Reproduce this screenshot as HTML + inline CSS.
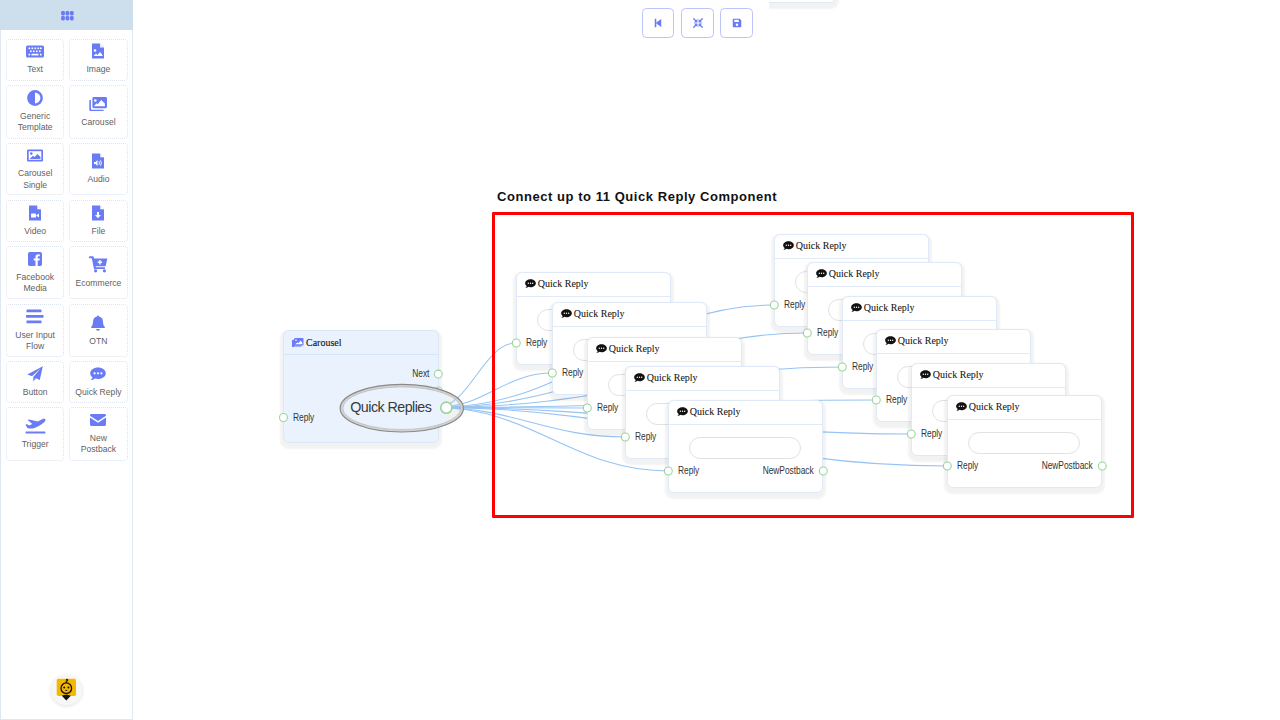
<!DOCTYPE html>
<html><head><meta charset="utf-8"><title>Flow</title><style>
*{box-sizing:border-box}
html,body{margin:0;padding:0;width:1280px;height:720px;overflow:hidden;background:#fff;font-family:"Liberation Sans",sans-serif}
#sb{position:absolute;left:0;top:0;width:132.8px;height:720px;border:1px solid #dfe8f2;border-top:none;background:#fff}
#sbh{position:absolute;left:-1px;top:0;width:133px;height:30px;background:#cddeed}
.si{position:absolute;border:1px dotted #d9e3f1;border-radius:4px;display:flex;flex-direction:column;align-items:center;justify-content:center}
.si .ic{height:16px;display:flex;align-items:center;justify-content:center;margin-bottom:5px}
.si .lb{font-size:8.6px;line-height:11.3px;color:#5f5f5f;white-space:nowrap}
.tb{position:absolute;top:8.2px;height:29.6px;border:1.3px solid #bcc3f9;border-radius:4.5px;background:#fff}
.tb svg{position:absolute;left:50%;top:50%;transform:translate(-50%,-50%)}
#conn{position:absolute;left:0;top:0}
.qr{position:absolute;width:155px;height:93.3px;background:#fff;border:1px solid #dfe9f7;border-radius:6px;box-shadow:0 3px 2px 2.5px rgba(0,0,0,0.05)}
.qh{position:absolute;left:0;top:0;width:100%;height:24px;border-bottom:1px solid #e0eaf8}
.cic{position:absolute;left:8px;top:6px}
.qt{position:absolute;left:20.8px;top:5.4px;font-family:"Liberation Serif",serif;font-size:10px;line-height:12px;color:#111;white-space:nowrap;-webkit-text-stroke:0.05px #111}
.pill{position:absolute;left:19.7px;top:36px;width:112.5px;height:21.7px;border:1px solid #e2e2e2;border-radius:11px;background:#fff}
.pl{position:absolute;top:64.4px;font-size:10px;line-height:11px;letter-spacing:-0.05px;color:#333;white-space:nowrap;transform:scaleX(0.84);transform-origin:0 0}
.pr{transform-origin:100% 0}
.ps{position:absolute;left:-11px;top:-1px;overflow:visible}
.ps circle{fill:#fff;stroke:#9ad49b;stroke-width:1.1}
#car{position:absolute;left:283px;top:330px;width:156px;height:113.4px;background:#eaf3fd;border:1px solid #dbe8f8;border-radius:6px;box-shadow:0 3px 2px 2.5px rgba(0,0,0,0.05)}
#ttl{position:absolute;left:497px;top:189px;font-size:13px;line-height:16px;font-weight:bold;letter-spacing:0.55px;color:#111;white-space:nowrap}
#red{position:absolute;left:492px;top:212px;width:642.2px;height:305.5px;border:3.3px solid #ff0000;border-radius:1px}
</style></head>
<body>
<div id="sb"><div id="sbh"><svg width="14" height="10" viewBox="0 0 14 10" style="position:absolute;left:60.6px;top:10.9px"><rect x="0.1" y="0.1" width="3.8" height="4.3" rx="1.4" fill="#6a7cf5"/><rect x="0.1" y="5.1" width="3.8" height="4.3" rx="1.4" fill="#6a7cf5"/><rect x="4.5" y="0.1" width="3.8" height="4.3" rx="1.4" fill="#6a7cf5"/><rect x="4.5" y="5.1" width="3.8" height="4.3" rx="1.4" fill="#6a7cf5"/><rect x="8.9" y="0.1" width="3.8" height="4.3" rx="1.4" fill="#6a7cf5"/><rect x="8.9" y="5.1" width="3.8" height="4.3" rx="1.4" fill="#6a7cf5"/></svg></div>
<div class="si" style="left:5.4px;top:38.5px;width:57.5px;height:42px"><div class="ic"><svg width="18" height="13" viewBox="0 0 18 13"><rect x="0" y="0.5" width="18" height="12" rx="1.5" fill="#6a7cf5"/>
<g fill="#fff"><rect x="2.5" y="2.5" width="1.6" height="1.6"/><rect x="5.5" y="2.5" width="1.6" height="1.6"/><rect x="8.5" y="2.5" width="1.6" height="1.6"/><rect x="11.5" y="2.5" width="1.6" height="1.6"/><rect x="14" y="2.5" width="1.6" height="1.6"/>
<rect x="4" y="5.5" width="1.6" height="1.6"/><rect x="7" y="5.5" width="1.6" height="1.6"/><rect x="10" y="5.5" width="1.6" height="1.6"/><rect x="13" y="5.5" width="1.6" height="1.6"/>
<rect x="2.5" y="8.8" width="1.6" height="1.6"/><rect x="5.5" y="8.8" width="7" height="1.6"/><rect x="14" y="8.8" width="1.6" height="1.6"/></g></svg></div><div class="lb">Text</div></div>
<div class="si" style="left:68.2px;top:38.5px;width:58.5px;height:42px"><div class="ic"><svg width="12" height="16" viewBox="0 0 12 16"><path d="M0 0.5 H8 L12 4.5 V15.5 H0 Z" fill="#6a7cf5"/><path d="M8 0.5 V4.5 H12 Z" fill="#fff" opacity="0.9"/>
<circle cx="3" cy="7.5" r="1.3" fill="#fff"/><path d="M1.5 13 L4 10.5 L5.5 12 L8 9 L10.5 12 V13 Z" fill="#fff"/></svg></div><div class="lb">Image</div></div>
<div class="si" style="left:5.4px;top:85.3px;width:57.5px;height:53.3px"><div class="ic"><svg width="16" height="16" viewBox="0 0 16 16"><circle cx="8" cy="8" r="7.9" fill="#6a7cf5"/><path d="M8 2.6 A5.4 5.4 0 0 1 8 13.4 Z" fill="#fff"/></svg></div><div class="lb">Generic</div><div class="lb">Template</div></div>
<div class="si" style="left:68.2px;top:85.3px;width:58.5px;height:53.3px"><div class="ic"><svg width="18" height="14.5" viewBox="0 0 18 14.5"><path d="M0.3 3.3 Q0.3 3 1 3 H1.9 V11.4 Q1.9 12.7 3.2 12.7 H14.6 V13.4 Q14.6 14.3 13.7 14.3 H2 Q0.3 14.3 0.3 12.6 Z" fill="#6a7cf5"/>
<rect x="3.4" y="0" width="14.6" height="11.2" rx="1.4" fill="#6a7cf5"/><circle cx="6.3" cy="3.5" r="1.25" fill="#fff"/><path d="M4.9 9.2 L7.5 6.3 L8.7 7.2 L12.2 3.1 L15.9 6.4 V9.2 Z" fill="#fff"/></svg></div><div class="lb">Carousel</div></div>
<div class="si" style="left:5.4px;top:142.8px;width:57.5px;height:52.5px"><div class="ic"><svg width="16" height="13" viewBox="0 0 16 13"><rect x="0" y="0.5" width="16" height="12" rx="1.3" fill="#6a7cf5"/>
<rect x="1.7" y="2.2" width="12.6" height="8.6" fill="#fff"/><circle cx="4.3" cy="4.6" r="1.3" fill="#6a7cf5"/><path d="M2.5 10 L6 6.8 L7.5 8 L10.5 5 L13.5 8 V10 Z" fill="#6a7cf5"/></svg></div><div class="lb">Carousel</div><div class="lb">Single</div></div>
<div class="si" style="left:68.2px;top:142.8px;width:58.5px;height:52.5px"><div class="ic"><svg width="12" height="16" viewBox="0 0 12 16"><path d="M0 0.5 H8 L12 4.5 V15.5 H0 Z" fill="#6a7cf5"/><path d="M8.3 0.5 V4.2 H12 Z" fill="#fff"/>
<path d="M2 9 H3.5 L5.5 7 V13 L3.5 11 H2 Z" fill="#fff"/><path d="M7 8.3 Q8 10 7 11.7" stroke="#fff" stroke-width="0.9" fill="none"/><path d="M8.5 7.3 Q10.2 10 8.5 12.7" stroke="#fff" stroke-width="0.9" fill="none"/></svg></div><div class="lb">Audio</div></div>
<div class="si" style="left:5.4px;top:200px;width:57.5px;height:41.7px"><div class="ic"><svg width="12" height="16" viewBox="0 0 12 16"><path d="M0 0.5 H8 L12 4.5 V15.5 H0 Z" fill="#6a7cf5"/><path d="M8.3 0.5 V4.2 H12 Z" fill="#fff"/>
<rect x="2" y="8.5" width="5" height="4" rx="0.6" fill="#fff"/><path d="M7 10.5 L10 8.5 V12.5 Z" fill="#fff"/></svg></div><div class="lb">Video</div></div>
<div class="si" style="left:68.2px;top:200px;width:58.5px;height:41.7px"><div class="ic"><svg width="12" height="16" viewBox="0 0 12 16"><path d="M0 0.5 H8 L12 4.5 V15.5 H0 Z" fill="#6a7cf5"/><path d="M8.3 0.5 V4.2 H12 Z" fill="#fff"/>
<path d="M5 7 H7 V10 H9 L6 13.3 L3 10 H5 Z" fill="#fff"/></svg></div><div class="lb">File</div></div>
<div class="si" style="left:5.4px;top:246px;width:57.5px;height:53.3px"><div class="ic"><svg width="14" height="14" viewBox="0 0 14 14"><rect x="0" y="0" width="14" height="14" rx="1.8" fill="#6a7cf5"/>
<path d="M9.7 14 V8.6 H11.5 L11.8 6.5 H9.7 V5.2 Q9.7 4.3 10.7 4.3 H11.9 V2.5 Q11 2.3 10 2.3 Q7.5 2.3 7.5 5 V6.5 H5.7 V8.6 H7.5 V14 Z" fill="#fff"/></svg></div><div class="lb">Facebook</div><div class="lb">Media</div></div>
<div class="si" style="left:68.2px;top:246px;width:58.5px;height:53.3px"><div class="ic"><svg width="18.5" height="16.5" viewBox="0 0 18.5 16.5"><path d="M1 1.3 H3.7 L5.9 12.2" stroke="#6a7cf5" stroke-width="2.1" fill="none" stroke-linecap="round" stroke-linejoin="round"/>
<path d="M4.2 2.4 H18.3 L16.7 10.3 H5.8 Z" fill="#6a7cf5"/><rect x="5.4" y="11.3" width="10.6" height="1.7" rx="0.5" fill="#6a7cf5"/><circle cx="6.6" cy="14.8" r="1.6" fill="#6a7cf5"/><circle cx="15.4" cy="14.8" r="1.6" fill="#6a7cf5"/>
<path d="M10.9 4.1 V8.5 M8.7 6.3 H13.1" stroke="#fff" stroke-width="1.4"/></svg></div><div class="lb">Ecommerce</div></div>
<div class="si" style="left:5.4px;top:304px;width:57.5px;height:53.3px"><div class="ic"><svg width="18" height="15" viewBox="0 0 18 15"><rect x="0.5" y="0.5" width="15" height="2.8" rx="0.6" fill="#6a7cf5"/><rect x="0" y="6" width="17.5" height="2.8" rx="0.6" fill="#6a7cf5"/><rect x="0.5" y="11.5" width="15" height="2.8" rx="0.6" fill="#6a7cf5"/></svg></div><div class="lb">User Input</div><div class="lb">Flow</div></div>
<div class="si" style="left:68.2px;top:304px;width:58.5px;height:53.3px"><div class="ic"><svg width="14" height="16" viewBox="0 0 14 16"><path d="M7 0.5 Q8 0.5 8 1.6 Q12 2.5 12 7 Q12 10.5 13.8 12 V13 H0.2 V12 Q2 10.5 2 7 Q2 2.5 6 1.6 Q6 0.5 7 0.5 Z" fill="#6a7cf5"/><path d="M5 14 H9 Q9 15.8 7 15.8 Q5 15.8 5 14 Z" fill="#6a7cf5"/></svg></div><div class="lb">OTN</div></div>
<div class="si" style="left:5.4px;top:361.3px;width:57.5px;height:42px"><div class="ic"><svg width="16" height="16" viewBox="0 0 16 16"><path d="M15.8 0.2 L0.3 8.5 L5 10.3 L13.5 2.5 L6.3 11 V15.5 L8.8 12.2 L12.8 14 Z" fill="#6a7cf5"/></svg></div><div class="lb">Button</div></div>
<div class="si" style="left:68.2px;top:361.3px;width:58.5px;height:42px"><div class="ic"><svg width="16" height="14" viewBox="0 0 16 14"><path d="M8 0.5 C12.4 0.5 15.8 3.1 15.8 6.3 C15.8 9.5 12.4 12.1 8 12.1 C6.9 12.1 5.9 11.9 5 11.6 C4 12.4 2.4 13.3 0.5 13.3 C1.6 12.3 2.3 11.2 2.5 10.3 C1 9.3 0.2 7.9 0.2 6.3 C0.2 3.1 3.6 0.5 8 0.5 Z" fill="#6a7cf5"/>
<circle cx="4.6" cy="6.3" r="1.1" fill="#fff"/><circle cx="8" cy="6.3" r="1.1" fill="#fff"/><circle cx="11.4" cy="6.3" r="1.1" fill="#fff"/></svg></div><div class="lb">Quick Reply</div></div>
<div class="si" style="left:5.4px;top:407.3px;width:57.5px;height:53.4px"><div class="ic"><svg width="21" height="16" viewBox="2.3 4.4 21 16"><path d="M5 6.4 Q5.3 5.6 6.4 5.9 L15 8 L20 5.3 Q21.6 4.6 22.6 5.6 Q23.2 6.7 22 8.1 Q19.5 10.8 13 13.8 Q10 15.1 6.8 15 Q5.2 14.9 4.4 13.8 L3 11.6 Q2.8 10.9 3.6 10.7 L4.4 10.7 L6.5 12 L9.6 10.3 Z" fill="#6a7cf5"/><rect x="2.8" y="17.9" width="19.9" height="2.1" rx="0.6" fill="#6a7cf5"/></svg></div><div class="lb">Trigger</div></div>
<div class="si" style="left:68.2px;top:407.3px;width:58.5px;height:53.4px"><div class="ic"><svg width="16" height="12" viewBox="0 0 16 12"><path d="M1.4 0 H14.6 Q16 0 16 1.4 V1.8 L8 7 L0 1.8 V1.4 Q0 0 1.4 0 Z" fill="#6a7cf5"/><path d="M0 3.5 L8 8.7 L16 3.5 V10.6 Q16 12 14.6 12 H1.4 Q0 12 0 10.6 Z" fill="#6a7cf5"/></svg></div><div class="lb">New</div><div class="lb">Postback</div></div>
</div>
<div style="position:absolute;left:51.3px;top:674.5px;width:30.5px;height:30.5px;border-radius:50%;box-shadow:0 1px 3px 1px rgba(0,0,0,0.08);background:#f7f7f7"></div>
<svg width="22" height="24" viewBox="0 0 22 24" style="position:absolute;left:56px;top:678px"><rect x="0.7" y="0.7" width="19.3" height="17.3" rx="1.8" fill="#f5b700"/>
<circle cx="10.3" cy="10.2" r="5.3" fill="none" stroke="#111" stroke-width="1.3"/><circle cx="8.2" cy="9.6" r="1" fill="#111"/><circle cx="12.4" cy="9.6" r="1" fill="#111"/>
<path d="M9.4 12.4 H11.2" stroke="#111" stroke-width="1"/><path d="M10.3 4.9 V3 Q12 3 11.6 1.6 Q10.9 1 10.2 1.8" stroke="#111" stroke-width="1.1" fill="none"/>
<path d="M5.8 17.8 Q10.3 15.8 14.8 17.8 L10.3 22.4 Z" fill="#111"/></svg>
<div class="tb" style="left:642.3px;width:31.5px"><svg width="7" height="9" viewBox="0 0 7 9" style="margin-left:-0.5px"><rect x="0" y="0" width="1.8" height="9" rx="0.4" fill="#6a7cf5"/><path d="M7 0.3 V8.7 L1.2 4.5 Z" fill="#6a7cf5"/></svg></div>
<div class="tb" style="left:680.8px;width:33.2px"><svg width="10" height="10" viewBox="0 0 10 10" style="margin-left:0.3px"><g fill="#6a7cf5"><path d="M4.4 4.4 V0.9 L0.9 4.4 Z M5.6 4.4 V0.9 L9.1 4.4 Z M4.4 5.6 V9.1 L0.9 5.6 Z M5.6 5.6 V9.1 L9.1 5.6 Z"/></g><g stroke="#6a7cf5" stroke-width="1.3" stroke-linecap="round"><path d="M0.7 0.7 L3.2 3.2 M9.3 0.7 L6.8 3.2 M0.7 9.3 L3.2 6.8 M9.3 9.3 L6.8 6.8"/></g></svg></div>
<div class="tb" style="left:720.3px;width:32.5px"><svg width="9" height="9" viewBox="0 0 9 9"><path d="M0 1 Q0 0 1 0 H7 L9 2 V8 Q9 9 8 9 H1 Q0 9 0 8 Z" fill="#6a7cf5"/><rect x="1.8" y="1.3" width="4.5" height="2.2" fill="#fff"/><circle cx="4.5" cy="6.2" r="1.2" fill="#fff"/></svg></div>
<div style="position:absolute;left:769px;top:0;width:80px;height:14px;overflow:hidden"><div style="position:absolute;left:-12px;top:-60px;width:79px;height:62.8px;background:#fff;border:1px solid #dfe9f7;border-radius:0 0 6px 6px;box-shadow:0 3px 2px 2.5px rgba(0,0,0,0.05)"></div></div>
<svg id="conn" width="1280" height="720" viewBox="0 0 1280 720"><g fill="none" stroke="#95c4f4" stroke-width="1.05"><path d="M436.5 407.5 C469.177 407.5 483.523 343.0 516.2 343.0"/><path d="M436.5 407.5 C483.937 407.5 504.76300000000003 373.0 552.2 373.0"/><path d="M436.5 407.5 C498.28700000000003 407.5 525.413 408.0 587.2 408.0"/><path d="M436.5 407.5 C513.867 407.5 547.8330000000001 437.0 625.2 437.0"/><path d="M436.5 407.5 C531.4970000000001 407.5 573.203 471.0 668.2 471.0"/><path d="M436.5 407.5 C574.957 407.5 635.743 305.0 774.2 305.0"/><path d="M436.5 407.5 C588.4870000000001 407.5 655.213 333.0 807.2 333.0"/><path d="M436.5 407.5 C602.837 407.5 675.863 367.0 842.2 367.0"/><path d="M436.5 407.5 C616.777 407.5 695.923 400.0 876.2 400.0"/><path d="M436.5 407.5 C631.127 407.5 716.5730000000001 434.0 911.2 434.0"/><path d="M436.5 407.5 C645.887 407.5 737.8130000000001 466.0 947.2 466.0"/></g></svg>
<div id="car"><div style="position:absolute;left:0;top:0;width:100%;height:23.9px;border-bottom:1px solid #d6e5f7"></div><svg width="11.5" height="9.5" viewBox="0 0 11.5 9.5" style="position:absolute;left:8px;top:6.5px"><rect x="0" y="1.8" width="9.2" height="7.6" rx="1" fill="#6a7cf5"/><rect x="2.1" y="0" width="9.4" height="7.6" rx="1" fill="#6a7cf5"/><rect x="2.1" y="7.6" width="7.1" height="1.8" fill="#a3aefb"/><circle cx="4" cy="2.2" r="0.8" fill="#fff"/><path d="M3 6.2 L5.3 4.6 L6.6 5.1 L8.6 2.6 L10.3 4.7 V6.2 Z" fill="#fff"/></svg><span style="position:absolute;left:22px;top:5.5px;font-family:'Liberation Serif',serif;font-size:10px;line-height:12px;color:#111;-webkit-text-stroke:0.1px #111">Carousel</span><span class="pl pr" style="right:9px;top:37.3px">Next</span><span class="pl" style="left:8.5px;top:81.2px">Reply</span><svg class="ps" width="180" height="120"><circle cx="165.3" cy="44.1" r="3.95"/><circle cx="165.3" cy="61" r="3.95"/><circle cx="10.5" cy="87.5" r="3.95"/></svg></div>
<div class="qr" style="left:774px;top:234px"><div class="qh"><svg class="cic" width="11" height="9" viewBox="0 0 16 13"><path d="M8 0.3 C12.4 0.3 15.8 2.9 15.8 6.1 C15.8 9.3 12.4 11.9 8 11.9 C6.9 11.9 5.9 11.7 5 11.4 C4 12.2 2.4 12.9 0.5 12.9 C1.6 11.9 2.3 11 2.5 10.1 C1 9.1 0.2 7.7 0.2 6.1 C0.2 2.9 3.6 0.3 8 0.3 Z" fill="#111"/><circle cx="4.8" cy="6.1" r="1" fill="#fff"/><circle cx="8" cy="6.1" r="1" fill="#fff"/><circle cx="11.2" cy="6.1" r="1" fill="#fff"/></svg><span class="qt">Quick Reply</span></div><div class="pill"></div><span class="pl" style="left:8.5px">Reply</span><span class="pl pr" style="right:8.5px">NewPostback</span><svg class="ps" width="180" height="100"><circle cx="10.3" cy="71.0" r="3.95"/><circle cx="165.3" cy="71.0" r="3.95"/></svg></div><div class="qr" style="left:807px;top:262px"><div class="qh"><svg class="cic" width="11" height="9" viewBox="0 0 16 13"><path d="M8 0.3 C12.4 0.3 15.8 2.9 15.8 6.1 C15.8 9.3 12.4 11.9 8 11.9 C6.9 11.9 5.9 11.7 5 11.4 C4 12.2 2.4 12.9 0.5 12.9 C1.6 11.9 2.3 11 2.5 10.1 C1 9.1 0.2 7.7 0.2 6.1 C0.2 2.9 3.6 0.3 8 0.3 Z" fill="#111"/><circle cx="4.8" cy="6.1" r="1" fill="#fff"/><circle cx="8" cy="6.1" r="1" fill="#fff"/><circle cx="11.2" cy="6.1" r="1" fill="#fff"/></svg><span class="qt">Quick Reply</span></div><div class="pill"></div><span class="pl" style="left:8.5px">Reply</span><span class="pl pr" style="right:8.5px">NewPostback</span><svg class="ps" width="180" height="100"><circle cx="10.3" cy="71.0" r="3.95"/><circle cx="165.3" cy="71.0" r="3.95"/></svg></div><div class="qr" style="left:842px;top:296px"><div class="qh"><svg class="cic" width="11" height="9" viewBox="0 0 16 13"><path d="M8 0.3 C12.4 0.3 15.8 2.9 15.8 6.1 C15.8 9.3 12.4 11.9 8 11.9 C6.9 11.9 5.9 11.7 5 11.4 C4 12.2 2.4 12.9 0.5 12.9 C1.6 11.9 2.3 11 2.5 10.1 C1 9.1 0.2 7.7 0.2 6.1 C0.2 2.9 3.6 0.3 8 0.3 Z" fill="#111"/><circle cx="4.8" cy="6.1" r="1" fill="#fff"/><circle cx="8" cy="6.1" r="1" fill="#fff"/><circle cx="11.2" cy="6.1" r="1" fill="#fff"/></svg><span class="qt">Quick Reply</span></div><div class="pill"></div><span class="pl" style="left:8.5px">Reply</span><span class="pl pr" style="right:8.5px">NewPostback</span><svg class="ps" width="180" height="100"><circle cx="10.3" cy="71.0" r="3.95"/><circle cx="165.3" cy="71.0" r="3.95"/></svg></div><div class="qr" style="left:876px;top:329px"><div class="qh"><svg class="cic" width="11" height="9" viewBox="0 0 16 13"><path d="M8 0.3 C12.4 0.3 15.8 2.9 15.8 6.1 C15.8 9.3 12.4 11.9 8 11.9 C6.9 11.9 5.9 11.7 5 11.4 C4 12.2 2.4 12.9 0.5 12.9 C1.6 11.9 2.3 11 2.5 10.1 C1 9.1 0.2 7.7 0.2 6.1 C0.2 2.9 3.6 0.3 8 0.3 Z" fill="#111"/><circle cx="4.8" cy="6.1" r="1" fill="#fff"/><circle cx="8" cy="6.1" r="1" fill="#fff"/><circle cx="11.2" cy="6.1" r="1" fill="#fff"/></svg><span class="qt">Quick Reply</span></div><div class="pill"></div><span class="pl" style="left:8.5px">Reply</span><span class="pl pr" style="right:8.5px">NewPostback</span><svg class="ps" width="180" height="100"><circle cx="10.3" cy="71.0" r="3.95"/><circle cx="165.3" cy="71.0" r="3.95"/></svg></div><div class="qr" style="left:911px;top:363px"><div class="qh"><svg class="cic" width="11" height="9" viewBox="0 0 16 13"><path d="M8 0.3 C12.4 0.3 15.8 2.9 15.8 6.1 C15.8 9.3 12.4 11.9 8 11.9 C6.9 11.9 5.9 11.7 5 11.4 C4 12.2 2.4 12.9 0.5 12.9 C1.6 11.9 2.3 11 2.5 10.1 C1 9.1 0.2 7.7 0.2 6.1 C0.2 2.9 3.6 0.3 8 0.3 Z" fill="#111"/><circle cx="4.8" cy="6.1" r="1" fill="#fff"/><circle cx="8" cy="6.1" r="1" fill="#fff"/><circle cx="11.2" cy="6.1" r="1" fill="#fff"/></svg><span class="qt">Quick Reply</span></div><div class="pill"></div><span class="pl" style="left:8.5px">Reply</span><span class="pl pr" style="right:8.5px">NewPostback</span><svg class="ps" width="180" height="100"><circle cx="10.3" cy="71.0" r="3.95"/><circle cx="165.3" cy="71.0" r="3.95"/></svg></div><div class="qr" style="left:947px;top:395px"><div class="qh"><svg class="cic" width="11" height="9" viewBox="0 0 16 13"><path d="M8 0.3 C12.4 0.3 15.8 2.9 15.8 6.1 C15.8 9.3 12.4 11.9 8 11.9 C6.9 11.9 5.9 11.7 5 11.4 C4 12.2 2.4 12.9 0.5 12.9 C1.6 11.9 2.3 11 2.5 10.1 C1 9.1 0.2 7.7 0.2 6.1 C0.2 2.9 3.6 0.3 8 0.3 Z" fill="#111"/><circle cx="4.8" cy="6.1" r="1" fill="#fff"/><circle cx="8" cy="6.1" r="1" fill="#fff"/><circle cx="11.2" cy="6.1" r="1" fill="#fff"/></svg><span class="qt">Quick Reply</span></div><div class="pill"></div><span class="pl" style="left:8.5px">Reply</span><span class="pl pr" style="right:8.5px">NewPostback</span><svg class="ps" width="180" height="100"><circle cx="10.3" cy="71.0" r="3.95"/><circle cx="165.3" cy="71.0" r="3.95"/></svg></div>
<div class="qr" style="left:516px;top:272px"><div class="qh"><svg class="cic" width="11" height="9" viewBox="0 0 16 13"><path d="M8 0.3 C12.4 0.3 15.8 2.9 15.8 6.1 C15.8 9.3 12.4 11.9 8 11.9 C6.9 11.9 5.9 11.7 5 11.4 C4 12.2 2.4 12.9 0.5 12.9 C1.6 11.9 2.3 11 2.5 10.1 C1 9.1 0.2 7.7 0.2 6.1 C0.2 2.9 3.6 0.3 8 0.3 Z" fill="#111"/><circle cx="4.8" cy="6.1" r="1" fill="#fff"/><circle cx="8" cy="6.1" r="1" fill="#fff"/><circle cx="11.2" cy="6.1" r="1" fill="#fff"/></svg><span class="qt">Quick Reply</span></div><div class="pill"></div><span class="pl" style="left:8.5px">Reply</span><span class="pl pr" style="right:8.5px">NewPostback</span><svg class="ps" width="180" height="100"><circle cx="10.3" cy="71.0" r="3.95"/><circle cx="165.3" cy="71.0" r="3.95"/></svg></div><div class="qr" style="left:552px;top:302px"><div class="qh"><svg class="cic" width="11" height="9" viewBox="0 0 16 13"><path d="M8 0.3 C12.4 0.3 15.8 2.9 15.8 6.1 C15.8 9.3 12.4 11.9 8 11.9 C6.9 11.9 5.9 11.7 5 11.4 C4 12.2 2.4 12.9 0.5 12.9 C1.6 11.9 2.3 11 2.5 10.1 C1 9.1 0.2 7.7 0.2 6.1 C0.2 2.9 3.6 0.3 8 0.3 Z" fill="#111"/><circle cx="4.8" cy="6.1" r="1" fill="#fff"/><circle cx="8" cy="6.1" r="1" fill="#fff"/><circle cx="11.2" cy="6.1" r="1" fill="#fff"/></svg><span class="qt">Quick Reply</span></div><div class="pill"></div><span class="pl" style="left:8.5px">Reply</span><span class="pl pr" style="right:8.5px">NewPostback</span><svg class="ps" width="180" height="100"><circle cx="10.3" cy="71.0" r="3.95"/><circle cx="165.3" cy="71.0" r="3.95"/></svg></div><div class="qr" style="left:587px;top:337px"><div class="qh"><svg class="cic" width="11" height="9" viewBox="0 0 16 13"><path d="M8 0.3 C12.4 0.3 15.8 2.9 15.8 6.1 C15.8 9.3 12.4 11.9 8 11.9 C6.9 11.9 5.9 11.7 5 11.4 C4 12.2 2.4 12.9 0.5 12.9 C1.6 11.9 2.3 11 2.5 10.1 C1 9.1 0.2 7.7 0.2 6.1 C0.2 2.9 3.6 0.3 8 0.3 Z" fill="#111"/><circle cx="4.8" cy="6.1" r="1" fill="#fff"/><circle cx="8" cy="6.1" r="1" fill="#fff"/><circle cx="11.2" cy="6.1" r="1" fill="#fff"/></svg><span class="qt">Quick Reply</span></div><div class="pill"></div><span class="pl" style="left:8.5px">Reply</span><span class="pl pr" style="right:8.5px">NewPostback</span><svg class="ps" width="180" height="100"><circle cx="10.3" cy="71.0" r="3.95"/><circle cx="165.3" cy="71.0" r="3.95"/></svg></div><div class="qr" style="left:625px;top:366px"><div class="qh"><svg class="cic" width="11" height="9" viewBox="0 0 16 13"><path d="M8 0.3 C12.4 0.3 15.8 2.9 15.8 6.1 C15.8 9.3 12.4 11.9 8 11.9 C6.9 11.9 5.9 11.7 5 11.4 C4 12.2 2.4 12.9 0.5 12.9 C1.6 11.9 2.3 11 2.5 10.1 C1 9.1 0.2 7.7 0.2 6.1 C0.2 2.9 3.6 0.3 8 0.3 Z" fill="#111"/><circle cx="4.8" cy="6.1" r="1" fill="#fff"/><circle cx="8" cy="6.1" r="1" fill="#fff"/><circle cx="11.2" cy="6.1" r="1" fill="#fff"/></svg><span class="qt">Quick Reply</span></div><div class="pill"></div><span class="pl" style="left:8.5px">Reply</span><span class="pl pr" style="right:8.5px">NewPostback</span><svg class="ps" width="180" height="100"><circle cx="10.3" cy="71.0" r="3.95"/><circle cx="165.3" cy="71.0" r="3.95"/></svg></div><div class="qr" style="left:668px;top:400px"><div class="qh"><svg class="cic" width="11" height="9" viewBox="0 0 16 13"><path d="M8 0.3 C12.4 0.3 15.8 2.9 15.8 6.1 C15.8 9.3 12.4 11.9 8 11.9 C6.9 11.9 5.9 11.7 5 11.4 C4 12.2 2.4 12.9 0.5 12.9 C1.6 11.9 2.3 11 2.5 10.1 C1 9.1 0.2 7.7 0.2 6.1 C0.2 2.9 3.6 0.3 8 0.3 Z" fill="#111"/><circle cx="4.8" cy="6.1" r="1" fill="#fff"/><circle cx="8" cy="6.1" r="1" fill="#fff"/><circle cx="11.2" cy="6.1" r="1" fill="#fff"/></svg><span class="qt">Quick Reply</span></div><div class="pill"></div><span class="pl" style="left:8.5px">Reply</span><span class="pl pr" style="right:8.5px">NewPostback</span><svg class="ps" width="180" height="100"><circle cx="10.3" cy="71.0" r="3.95"/><circle cx="165.3" cy="71.0" r="3.95"/></svg></div>
<svg width="1280" height="720" style="position:absolute;left:0;top:0"><defs><clipPath id="ec"><ellipse cx="401.8" cy="408.2" rx="62" ry="24.2"/></clipPath></defs><g clip-path="url(#ec)"><rect x="330" y="380" width="140" height="60" fill="#f1f1f1"/><rect x="330" y="380" width="116.3" height="60" fill="#eaf3fd"/><svg x="446" y="380" width="30" height="60" viewBox="446 380 30 60" overflow="hidden"><g fill="none" stroke="#95c4f4" stroke-width="1.05"><path d="M436.5 407.5 C469.095 407.5 483.405 343.0 516.2 343.0"/><path d="M436.5 407.5 C483.855 407.5 504.645 373.0 552.2 373.0"/><path d="M436.5 407.5 C498.205 407.5 525.295 408.0 587.2 408.0"/><path d="M436.5 407.5 C513.785 407.5 547.715 437.0 625.2 437.0"/><path d="M436.5 407.5 C531.415 407.5 573.085 471.0 668.2 471.0"/><path d="M436.5 407.5 C574.875 407.5 635.625 305.0 774.2 305.0"/><path d="M436.5 407.5 C588.405 407.5 655.095 333.0 807.2 333.0"/><path d="M436.5 407.5 C602.755 407.5 675.745 367.0 842.2 367.0"/><path d="M436.5 407.5 C616.6949999999999 407.5 695.8050000000001 400.0 876.2 400.0"/><path d="M436.5 407.5 C631.045 407.5 716.455 434.0 911.2 434.0"/><path d="M436.5 407.5 C645.805 407.5 737.695 466.0 947.2 466.0"/></g></svg></g><ellipse cx="401.8" cy="408.2" rx="60.3" ry="22.6" fill="none" stroke="#d3d3d3" stroke-width="2.6"/><ellipse cx="401.8" cy="408.2" rx="61.6" ry="23.8" fill="none" stroke="#8a8a8a" stroke-width="1.2"/><ellipse cx="401.8" cy="408.2" rx="58.9" ry="21.3" fill="none" stroke="#b0b0b0" stroke-width="0.6"/><text x="350.3" y="411.9" font-family="Liberation Sans" font-size="14.3" letter-spacing="-0.55" fill="#3a3a3a">Quick Replies</text><circle cx="446.3" cy="407.7" r="5.6" fill="#fff" stroke="#9ad49b" stroke-width="1.6"/></svg>
<div id="ttl">Connect up to 11 Quick Reply Component</div>
<div id="red"></div>
</body></html>
